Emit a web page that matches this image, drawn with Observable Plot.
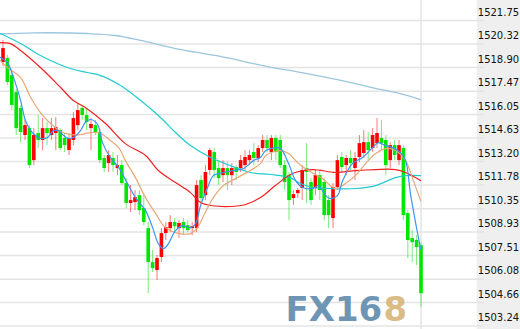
<!DOCTYPE html>
<html><head><meta charset="utf-8">
<script src="https://cdn.jsdelivr.net/npm/d3@7"></script>
<script src="https://cdn.jsdelivr.net/npm/@observablehq/plot@0.6"></script>
<style>html,body{margin:0;padding:0;background:#fff;overflow:hidden}</style>
</head><body><div id="chart"></div>
<script>
// Price axis tick labels
const ticks = [1521.75,1520.32,1518.90,1517.47,1516.05,1514.63,1513.20,1511.78,1510.35,1508.93,1507.51,1506.08,1504.66,1503.24];

// Candles (index 0..95)
const open = [1519.20,1519.45,1518.41,1517.38,1516.42,1514.78,1515.20,1513.26,1514.90,1514.48,
1515.20,1514.78,1514.90,1515.08,1514.60,1513.87,1514.48,1515.38,1516.42,1515.99,
1515.20,1515.38,1514.96,1513.39,1513.08,1513.39,1512.78,1512.96,1511.87,1510.66,
1510.72,1511.14,1510.36,1509.14,1507.08,1506.60,1507.39,1508.84,1509.14,1509.51,
1509.14,1509.51,1509.32,1509.14,1509.14,1512.05,1511.14,1512.66,1513.75,1512.78,
1512.35,1512.78,1512.35,1512.84,1512.78,1512.96,1513.26,1513.75,1513.39,1513.99,
1514.48,1513.75,1514.60,1514.48,1512.96,1512.35,1510.96,1511.26,1511.57,1512.78,
1511.93,1511.57,1512.35,1511.93,1510.84,1509.75,1511.63,1513.45,1512.96,1513.39,
1512.78,1513.45,1513.69,1514.35,1513.99,1514.29,1514.60,1514.48,1513.26,1514.17,
1513.26,1513.99,1510.05,1508.54,1508.42,1508.11];
const close = [1520.05,1517.99,1516.60,1515.20,1514.96,1515.38,1512.96,1514.78,1514.48,1515.20,
1514.90,1515.20,1515.26,1513.99,1514.17,1514.60,1515.81,1516.29,1515.99,1515.57,
1515.45,1514.96,1513.26,1512.78,1513.57,1512.96,1512.96,1511.87,1510.66,1510.84,
1511.02,1510.23,1509.51,1507.08,1506.72,1507.33,1508.84,1509.20,1509.51,1509.26,
1509.45,1509.14,1509.02,1509.26,1511.75,1510.96,1512.54,1513.87,1512.66,1512.17,
1512.78,1512.35,1512.78,1512.54,1513.26,1513.45,1513.57,1513.39,1513.99,1514.48,
1513.99,1514.60,1513.75,1512.96,1511.93,1510.84,1511.20,1511.45,1512.66,1512.54,
1510.84,1512.35,1511.45,1509.93,1509.93,1511.63,1513.26,1512.84,1513.39,1513.08,
1513.39,1514.29,1514.35,1513.87,1514.78,1514.90,1514.29,1512.96,1514.17,1513.57,
1514.17,1509.93,1508.42,1508.29,1507.99,1505.20];
const high = [1520.54,1519.63,1518.60,1517.57,1516.60,1515.69,1515.38,1515.20,1515.99,1515.81,
1515.57,1515.81,1515.87,1515.20,1514.90,1514.90,1516.17,1516.72,1516.60,1516.42,
1515.81,1515.69,1515.20,1513.57,1513.87,1513.75,1513.57,1513.26,1512.17,1511.75,
1511.45,1511.45,1511.14,1509.51,1507.81,1507.51,1509.14,1509.51,1509.93,1509.75,
1509.63,1509.75,1509.63,1509.51,1512.05,1512.35,1512.96,1513.99,1513.99,1513.26,
1513.26,1513.14,1513.08,1512.96,1513.57,1513.87,1513.87,1514.29,1514.17,1514.78,
1514.78,1514.78,1514.78,1514.78,1513.26,1512.54,1511.45,1511.57,1512.96,1514.29,
1512.17,1512.66,1512.66,1512.17,1511.14,1511.87,1513.57,1513.75,1513.57,1513.87,
1513.75,1514.78,1515.08,1514.96,1515.20,1515.81,1515.69,1514.78,1514.35,1514.48,
1514.48,1514.17,1510.23,1509.02,1508.72,1508.29];
const low = [1518.96,1517.81,1516.29,1514.78,1514.35,1514.48,1512.78,1512.96,1513.99,1513.87,
1514.17,1514.48,1513.87,1513.87,1513.75,1513.57,1514.17,1515.08,1515.69,1515.08,
1513.87,1514.78,1513.08,1512.54,1512.54,1512.54,1512.35,1511.75,1510.36,1510.11,
1510.23,1509.93,1509.32,1505.20,1506.48,1505.99,1507.08,1508.42,1508.90,1508.90,
1508.54,1508.72,1508.90,1508.72,1508.90,1510.66,1510.84,1512.35,1512.17,1511.75,
1511.93,1511.45,1511.75,1512.05,1512.54,1512.66,1512.96,1512.96,1513.14,1513.75,
1513.75,1513.26,1513.26,1512.78,1511.45,1509.63,1510.54,1510.96,1510.84,1510.66,
1510.54,1511.14,1510.84,1509.63,1509.14,1509.14,1511.45,1512.54,1512.35,1512.66,
1512.05,1513.14,1513.39,1513.26,1513.75,1513.99,1513.87,1512.35,1512.78,1513.26,
1512.96,1509.63,1507.33,1507.08,1506.90,1504.36];

// Moving averages: [candle index, price]
const ma5 = [[-0.6,1519.51],[1.0,1519.20],[2.4,1518.29],[4.0,1516.90],[5.1,1515.69],[6.3,1515.08],[7.4,1514.78],[8.5,1514.60],[10.1,1514.66],[11.5,1515.08],[12.6,1515.08],[13.8,1514.78],[14.9,1514.60],[16.0,1514.66],[17.6,1515.08],[18.7,1515.57],[19.9,1515.75],[21.5,1515.45],[22.6,1514.35],[24.4,1513.45],[26.3,1512.84],[28.3,1511.87],[30.1,1511.02],[32.4,1510.23],[34.0,1509.20],[35.3,1508.23],[36.5,1507.93],[37.6,1508.23],[39.2,1509.02],[40.8,1509.32],[42.6,1509.20],[43.8,1509.45],[44.9,1510.54],[46.5,1511.63],[47.8,1512.35],[50.1,1512.54],[52.4,1512.66],[54.7,1512.78],[56.9,1513.26],[58.5,1513.45],[59.7,1513.87],[61.9,1514.05],[63.1,1513.99],[64.9,1513.08],[66.5,1512.05],[68.1,1511.63],[70.3,1511.57],[71.7,1511.75],[73.3,1511.14],[74.4,1510.96],[76.0,1511.14],[77.2,1512.05],[79.4,1513.08],[81.7,1513.45],[84.0,1514.05],[85.3,1514.35],[86.9,1514.17],[88.5,1514.05],[90.3,1513.75],[91.5,1513.26],[92.6,1511.26],[93.8,1509.45],[94.9,1507.93]];
const ma10 = [[-0.6,1519.32],[1.0,1518.90],[4.0,1518.29],[6.3,1517.08],[8.5,1516.17],[10.8,1515.51],[13.1,1515.02],[15.3,1514.84],[17.6,1514.84],[19.9,1514.96],[22.2,1514.90],[24.4,1514.48],[26.3,1514.05],[27.8,1513.26],[30.1,1512.23],[32.4,1511.02],[34.7,1510.05],[36.9,1509.20],[39.2,1508.90],[42.6,1508.84],[44.2,1509.20],[45.6,1509.93],[47.8,1511.02],[50.1,1511.75],[53.3,1512.23],[58.5,1513.08],[59.7,1513.57],[63.1,1513.87],[64.9,1513.69],[67.2,1513.08],[69.4,1512.66],[72.6,1512.17],[75.6,1511.57],[77.8,1511.87],[80.1,1512.35],[82.4,1513.08],[84.7,1513.69],[86.9,1513.99],[89.2,1513.87],[91.5,1513.26],[93.1,1512.17],[94.9,1510.84]];
const ma20 = [[-0.6,1520.41],[1.7,1520.35],[4.0,1519.93],[8.5,1518.90],[13.1,1517.69],[16.0,1516.90],[18.7,1516.48],[23.3,1515.51],[27.8,1514.29],[32.4,1513.57],[35.3,1512.66],[39.2,1511.93],[42.6,1511.32],[44.9,1510.72],[47.2,1510.54],[51.7,1510.48],[55.1,1510.60],[58.5,1511.02],[61.9,1511.75],[65.8,1512.48],[70.3,1512.72],[75.6,1512.54],[80.1,1512.66],[84.7,1512.72],[89.2,1512.72],[91.5,1512.54],[94.9,1512.05]];
const ma30 = [[-0.6,1520.96],[4.0,1520.35],[8.5,1519.63],[15.3,1518.84],[19.2,1518.60],[22.2,1518.41],[26.7,1517.81],[31.3,1516.90],[35.8,1515.87],[39.2,1514.96],[42.6,1514.17],[47.2,1513.45],[51.7,1512.96],[56.3,1512.54],[60.8,1512.42],[65.3,1512.23],[67.6,1511.87],[70.3,1511.63],[74.4,1511.57],[80.1,1511.57],[84.7,1511.75],[89.2,1512.23],[91.5,1512.35],[94.9,1512.35]];
const ma60 = [[-0.6,1520.93],[6.9,1521.00],[19.2,1520.96],[25.6,1520.84],[31.3,1520.54],[39.2,1520.05],[49.4,1519.57],[60.1,1518.96],[67.6,1518.60],[79.0,1517.99],[85.8,1517.57],[90.3,1517.32],[94.9,1516.96]];

const candles = open.map((o, i) => ({i, open: o, close: close[i], high: high[i], low: low[i], up: close[i] >= o}));
const yMin = 1503.03, yMax = 1522.96;
const lineOf = (pts) => pts.map(([i, v]) => ({i, v}));

const chart = Plot.plot({
  width: 520, height: 329,
  marginLeft: 0, marginRight: 99, marginTop: 0, marginBottom: 0,
  x: {domain: [-0.57, 95.11], axis: null},
  y: {domain: [yMin, yMax], axis: null},
  color: {type: "identity"},
  style: {background: "#fff", fontFamily: "DejaVu Sans"},
  marks: [
    Plot.rect([0], {x1: 107.8, x2: 118, y1: yMin, y2: yMax, fill: "#efefef"}),
    Plot.ruleY(ticks, {y: d => d, x1: -0.57, x2: 109.5, stroke: "#e4e4e4", strokeWidth: 1.5}),
    Plot.ruleX([95], {x: d => d, y1: yMin, y2: yMax, stroke: "#e4e4e4", strokeWidth: 1.5}),
    Plot.ruleX(candles, {x: "i", y1: "low", y2: "high", stroke: d => d.up ? "#ff2020" : "#20e020", strokeOpacity: 0.6, strokeWidth: 1}),
    Plot.ruleX(candles, {x: "i", y1: "open", y2: "close", stroke: d => d.up ? "#ff0000" : "#00e600", strokeWidth: 3.6}),
    Plot.line(lineOf(ma60), {x: "i", y: "v", stroke: "#9cc6df", strokeWidth: 1.3, curve: "catmull-rom"}),
    Plot.line(lineOf(ma30), {x: "i", y: "v", stroke: "#22cbd2", strokeWidth: 1.2, curve: "catmull-rom"}),
    Plot.line(lineOf(ma20), {x: "i", y: "v", stroke: "#f02020", strokeWidth: 1.2, curve: "catmull-rom"}),
    Plot.line(lineOf(ma10), {x: "i", y: "v", stroke: "#e8a878", strokeWidth: 1.2, curve: "catmull-rom"}),
    Plot.line(lineOf(ma5), {x: "i", y: "v", stroke: "#3a96f0", strokeWidth: 1.2, curve: "catmull-rom"}),
    Plot.text(ticks, {x: 107.9, y: d => d, dy: -8, text: d => d.toFixed(2), textAnchor: "start", fill: "#111", fontSize: 10, fontFamily: "DejaVu Sans", style: "letter-spacing:-0.5px"}),
    Plot.text([0], {x: 64.2, y: 1504.18, text: d => "FX16", textAnchor: "start", fill: "#5f8cad", fillOpacity: 0.92, fontSize: 34, fontWeight: "bold", fontFamily: "DejaVu Sans"}),
    Plot.text([0], {x: 86.5, y: 1504.18, text: d => "8", textAnchor: "start", fill: "#d8b87c", fillOpacity: 0.95, fontSize: 34, fontWeight: "bold", fontFamily: "DejaVu Sans"})
  ]
});
document.getElementById("chart").appendChild(chart);
</script>
</body></html>
